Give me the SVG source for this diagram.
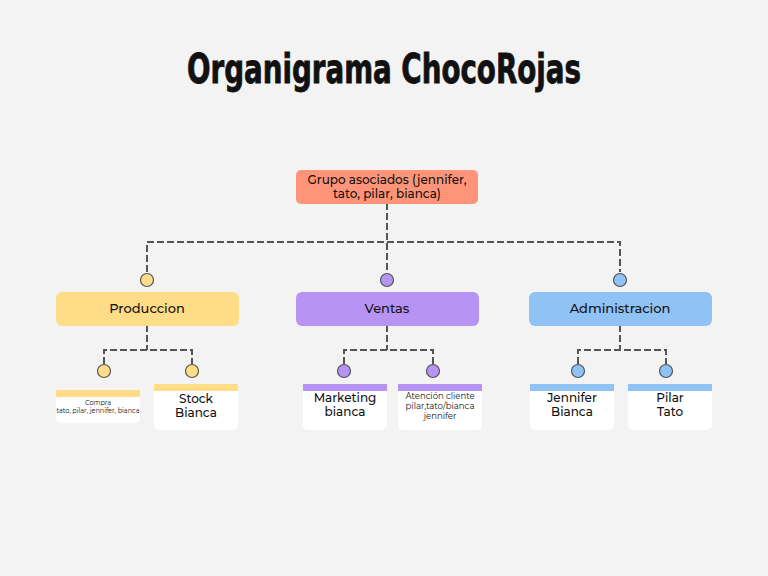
<svg xmlns="http://www.w3.org/2000/svg" width="768" height="576" viewBox="0 0 768 576">
<style>
text{font-family:"Montserrat","Noto Sans","Liberation Sans",sans-serif;fill:#111;text-anchor:middle}
.l{fill:none;stroke:#555;stroke-width:2;stroke-dasharray:7,3}
.c{stroke:#555;stroke-width:1.2}
.w{fill:#fff}
.m{font-size:13px;font-weight:500}
.s{font-size:12px;font-weight:500}
</style>
<rect width="768" height="576" fill="#f3f3f3"/>
<text x="384" y="83" style="font-family:'DejaVu Sans Condensed','Liberation Sans Narrow',sans-serif;font-weight:bold;font-size:40px;stroke:#111;stroke-width:0.8" transform="translate(384 0) scale(0.77 1) translate(-384 0)">Organigrama ChocoRojas</text>
<g id="connectors">
<path class="l" d="M387 203V272M147 272V242H620V272"/>
<path class="l" d="M147 325V350M104 364V350H192V364"/>
<path class="l" d="M387 325V350M344 364V350H433V364"/>
<path class="l" d="M620 325V350M578 364V350H666V364"/>
<circle class="c" cx="147" cy="280" r="6.5" fill="#FFDD88"/>
<circle class="c" cx="387" cy="280" r="6.5" fill="#B794F4"/>
<circle class="c" cx="620" cy="280" r="6.5" fill="#90C2F5"/>
<circle class="c" cx="104" cy="371" r="6.5" fill="#FFDD88"/>
<circle class="c" cx="192" cy="371" r="6.5" fill="#FFDD88"/>
<circle class="c" cx="344" cy="371" r="6.5" fill="#B794F4"/>
<circle class="c" cx="433" cy="371" r="6.5" fill="#B794F4"/>
<circle class="c" cx="578" cy="371" r="6.5" fill="#90C2F5"/>
<circle class="c" cx="666" cy="371" r="6.5" fill="#90C2F5"/>
</g>
<g id="grupo"><rect x="296" y="170" width="182" height="34" rx="5" fill="#FF9478"/>
<text class="s" x="387" y="184">Grupo asociados (jennifer,</text><text class="s" x="387" y="197.5">tato, pilar, bianca)</text></g>
<g id="produccion"><rect x="56" y="292" width="183" height="34" rx="6" fill="#FFDD88"/><text class="m" x="147" y="313">Produccion</text></g>
<g id="ventas"><rect x="296" y="292" width="183" height="34" rx="6" fill="#B794F4"/><text class="m" x="387" y="313">Ventas</text></g>
<g id="administracion"><rect x="529" y="292" width="183" height="34" rx="6" fill="#90C2F5"/><text class="m" x="620" y="313">Administracion</text></g>
<g id="compra"><rect class="w" x="56" y="390" width="84" height="33" rx="5"/><rect x="56" y="390" width="84" height="7" fill="#FFDD88"/>
<text x="98" y="405" style="font-size:6.5px">Compra</text><text x="98" y="413" style="font-size:6.5px">tato, pilar, jennifer, bianca</text></g>
<g id="stock"><rect class="w" x="154" y="384" width="84" height="46" rx="5"/><rect x="154" y="384" width="84" height="7" fill="#FFDD88"/>
<text class="s" x="196" y="403">Stock</text><text class="s" x="196" y="417">Bianca</text></g>
<g id="marketing"><rect class="w" x="303" y="384" width="84" height="46" rx="5"/><rect x="303" y="384" width="84" height="7" fill="#B794F4"/>
<text class="s" x="345" y="402">Marketing</text><text class="s" x="345" y="416">bianca</text></g>
<g id="atencion"><rect class="w" x="398" y="384" width="84" height="46" rx="5"/><rect x="398" y="384" width="84" height="7" fill="#B794F4"/>
<text x="440" y="399" style="font-size:8.5px">Atención cliente</text><text x="440" y="409" style="font-size:8.5px">pilar,tato/bianca</text><text x="440" y="419" style="font-size:8.5px">jennifer</text></g>
<g id="jennifer"><rect class="w" x="530" y="384" width="84" height="46" rx="5"/><rect x="530" y="384" width="84" height="7" fill="#90C2F5"/>
<text class="s" x="572" y="402">Jennifer</text><text class="s" x="572" y="416">Bianca</text></g>
<g id="pilar"><rect class="w" x="628" y="384" width="84" height="46" rx="5"/><rect x="628" y="384" width="84" height="7" fill="#90C2F5"/>
<text class="s" x="670" y="402">Pilar</text><text class="s" x="670" y="416">Tato</text></g>
</svg>
